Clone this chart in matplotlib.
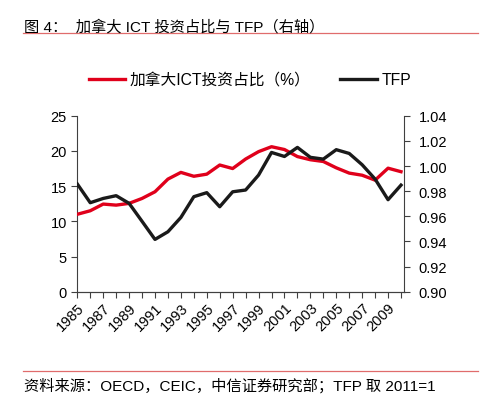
import numpy as np
import matplotlib.pyplot as plt
from matplotlib.lines import Line2D

plt.rcParams['font.family'] = ['Liberation Sans', 'Noto Sans CJK SC', 'DejaVu Sans']

RED = '#E0001B'; BLACK = '#1A1A1A'; LINE_RED = '#E06C6C'

# ── 数据 ────────────────────────────────────────────────────────────────────
years = list(range(1985, 2011))
ict_share = [11.0, 11.5, 12.45, 12.3, 12.55, 13.25, 14.2, 16.0, 16.95, 16.4,
             16.7, 18.0, 17.5, 18.85, 19.9, 20.6, 20.2, 19.2, 18.75, 18.5,
             17.6, 16.85, 16.55, 15.85, 17.55, 17.05]
tfp = [0.9857, 0.9708, 0.9742, 0.9764, 0.9703, 0.9560, 0.9416, 0.9477, 0.9591, 0.9756,
       0.9788, 0.9676, 0.9795, 0.9809, 0.9928, 1.0108, 1.0076, 1.0148, 1.0069, 1.0055,
       1.0130, 1.0100, 1.0010, 0.9896, 0.9732, 0.9848]
left_ticks = [0, 5, 10, 15, 20, 25]
right_ticks = [0.90, 0.92, 0.94, 0.96, 0.98, 1.00, 1.02, 1.04]
year_labels = [str(y) if (y - 1985) % 2 == 0 else '' for y in years]

fig = plt.figure(figsize=(5.0, 4.14), dpi=100)
ax = fig.add_axes([0.1546, 0.293, 0.8090 - 0.1546, 0.718 - 0.293])
ax2 = ax.twinx()

x = np.arange(len(years))
ax.plot(x, ict_share, color=RED, lw=2.4, zorder=3)
ax2.plot(x, tfp, color=BLACK, lw=2.4, zorder=3)

ax.set_xlim(0, 25.27)
ax.set_ylim(0, 25)
ax2.set_ylim(0.90, 1.04)
ax.set_yticks(left_ticks)
ax2.set_yticks(right_ticks)
ax2.set_yticklabels([f'{v:.2f}' for v in right_ticks])
ax.set_xticks(x)
ax.set_xticklabels(year_labels, rotation=45, ha='right', rotation_mode='anchor')

for a in (ax, ax2):
    a.spines['top'].set_visible(False)
    for s in a.spines.values():
        s.set_color('#404040'); s.set_linewidth(0.8)
    a.tick_params(direction='out', length=4, width=0.8, color='#404040',
                  labelsize=10.5, colors='black')
ax.spines['right'].set_visible(False)
ax2.spines['left'].set_visible(False)
ax.tick_params(axis='x', labelsize=10.5, pad=2)
ax2.tick_params(axis='y', pad=6)

# 图例
handles = [Line2D([], [], color=RED, lw=2.4), Line2D([], [], color=BLACK, lw=2.4)]
fig.legend(handles, ['加拿大ICT投资占比（%）', 'TFP'], loc='center',
           bbox_to_anchor=(0.5, 0.805), ncol=2, frameon=False, fontsize=11.3,
           handlelength=2.3, handletextpad=0.3, columnspacing=1.9)

# 标题与来源
fig.text(0.048, 0.935, '图 4：  加拿大 ICT 投资占比与 TFP（右轴）', fontsize=11,
         ha='left', va='center')
fig.add_artist(Line2D([0.046, 0.956], [0.917, 0.917], color=LINE_RED, lw=0.9))
fig.add_artist(Line2D([0.046, 0.956], [0.101, 0.101], color=LINE_RED, lw=0.9))
fig.text(0.048, 0.068, '资料来源：OECD，CEIC，中信证券研究部；TFP 取 2011=1',
         fontsize=11, ha='left', va='center')

fig.savefig('out.png', dpi=100)
